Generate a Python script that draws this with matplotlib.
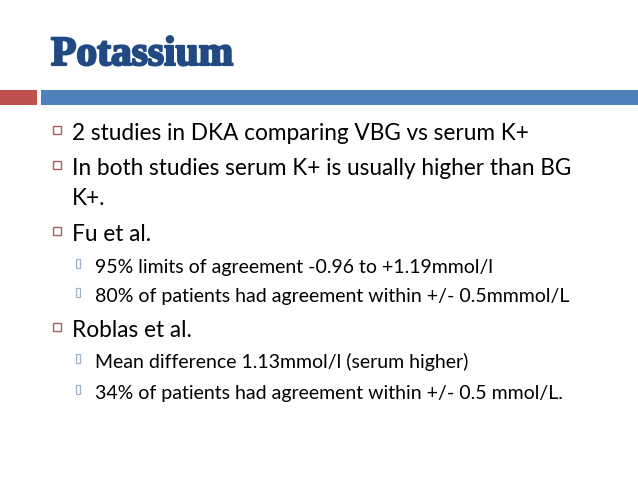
import matplotlib
matplotlib.use("Agg")
import matplotlib.pyplot as plt
from matplotlib.patches import Rectangle
import matplotlib.patheffects as pe

# ---- content ----
title = "Potassium"
level1_lines = [
    "2 studies in DKA comparing VBG vs serum K+",
    "In both studies serum K+ is usually higher than BG",
    "K+.",
    "Fu et al.",
    "Roblas et al.",
]
level1_bullet = [True, True, False, True, True]
level2_lines = [
    "95% limits of agreement -0.96 to +1.19mmol/l",
    "80% of patients had agreement within +/- 0.5mmmol/L",
    "Mean difference 1.13mmol/l (serum higher)",
    "34% of patients had agreement within +/- 0.5 mmol/L.",
]

# ---- layout (pixels, y downward) ----
W, H = 638, 479
l1_base = [140, 175, 205, 241, 337]
l2_base = [273, 302, 368, 399]
l1_x, l2_x = 72, 95
body_font = "Lato"

fig = plt.figure(figsize=(W / 100, H / 100), dpi=100)
ax = fig.add_axes([0, 0, 1, 1])
ax.set_xlim(0, W)
ax.set_ylim(H, 0)
ax.axis("off")

renderer = fig.canvas.get_renderer()

def fit_size(text, family, weight, target_w, start=20):
    t = ax.text(0, 0, text, fontsize=start, family=family, fontweight=weight)
    w = t.get_window_extent(renderer).width
    t.remove()
    return start * target_w / w

# title
ts = fit_size(title, "Liberation Serif", "bold", 182, 30)
ax.text(51, 65, title, fontsize=ts, family="Liberation Serif", fontweight="bold",
        color="#214A84", va="baseline", ha="left",
        path_effects=[pe.withStroke(linewidth=1.6, foreground="#214A84")])

# header bars
ax.add_patch(Rectangle((0, 89.5), 36.5, 15.5, facecolor="#C0504D", edgecolor="none"))
ax.add_patch(Rectangle((41, 89.5), W - 41, 15.5, facecolor="#4F81BD", edgecolor="none"))

# body text
s1 = fit_size(level1_lines[1], body_font, "normal", 500)
s2 = fit_size(level2_lines[1], body_font, "normal", 474)

for txt, yb, has_b in zip(level1_lines, l1_base, level1_bullet):
    ax.text(l1_x, yb, txt, fontsize=s1, family=body_font, color="#000000",
            va="baseline", ha="left")
    if has_b:
        ax.add_patch(Rectangle((52.5, yb - 14.5), 8, 8, facecolor="none",
                               edgecolor="#A8605E", lw=1.0))

for txt, yb in zip(level2_lines, l2_base):
    ax.text(l2_x, yb, txt, fontsize=s2, family=body_font, color="#000000",
            va="baseline", ha="left")
    ax.add_patch(Rectangle((75.5, yb - 14), 4, 9, facecolor="none",
                           edgecolor="#9FB2CB", lw=0.9))

fig.savefig("out.png", dpi=100, facecolor="white")
